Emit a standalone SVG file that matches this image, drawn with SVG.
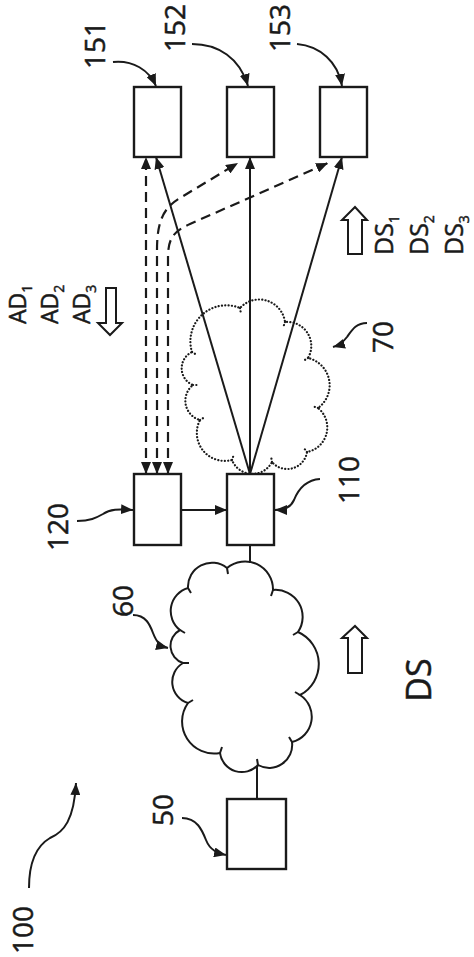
<svg xmlns="http://www.w3.org/2000/svg" width="474" height="957" viewBox="0 0 474 957">
<style>
.box{fill:#fff;stroke:#1a1a1a;stroke-width:2.4}
.ln{fill:none;stroke:#1a1a1a;stroke-width:2}
.dash{fill:none;stroke:#1a1a1a;stroke-width:2.2;stroke-dasharray:10 6}
.cloud{fill:none;stroke:#1a1a1a;stroke-width:2}
.dot{fill:none;stroke:#1a1a1a;stroke-width:2.2;stroke-dasharray:0.1 3.2;stroke-linecap:round}
.blk{fill:#fff;stroke:#1a1a1a;stroke-width:2}
.lbl{font-family:"Open Sans","Liberation Sans",sans-serif;fill:#1a1a1a;stroke:#1a1a1a;stroke-width:0.5;font-size:28px}
.mid{text-anchor:middle}
</style>
<defs>
<marker id="ah" viewBox="0 0 12 10" refX="12" refY="5" markerWidth="12" markerHeight="10" markerUnits="userSpaceOnUse" orient="auto-start-reverse">
<path d="M0,0 L12,5 L0,10 z" fill="#1a1a1a"/>
</marker>
</defs>
<rect x="0" y="0" width="474" height="957" fill="#fff"/>

<g id="cloud60">
<path class="cloud" d="M227,568 A28,28 0 0 1 273,590 A27,27 0 0 1 298,632 A35,35 0 0 1 300,695 A26,26 0 0 1 292,742 A23,23 0 0 1 258,765 A22,22 0 0 1 220,753 A32,32 0 0 1 188,703 A22,22 0 0 1 183,663 A18,18 0 0 1 180,630 A24,24 0 0 1 188,588 A24,24 0 0 1 227,568 Z"/>
<path class="cloud" d="M227,568 L228,574 M273,590 L271,596 M298,632 L293,635 M300,695 L295,692 M292,742 L289,737 M258,765 L257,759 M220,753 L222,747 M188,703 L193,700 M183,663 L189,663 M180,630 L185,633 M188,588 L191,593"/>
</g>

<g id="cloud70">
<path class="dot" d="M192,352 A36,36 0 0 1 240,308 A26,26 0 0 1 285,322 A24,24 0 0 1 308,358 A28,28 0 0 1 318,408 A25,25 0 0 1 307,452 A20,20 0 0 1 272,462 A22,22 0 0 1 232,460 A28,28 0 0 1 200,420 A20,20 0 0 1 193,385 A18,18 0 0 1 192,352 Z"/>
<path class="dot" d="M192,352 L197,355 M240,308 L241,314 M285,322 L283,328 M308,358 L303,361 M318,408 L312,406 M307,452 L303,447 M272,462 L271,456 M232,460 L234,454 M200,420 L205,417 M193,385 L199,385"/>
</g>

<g id="connectors">
<path class="ln" d="M250,474 L156,157" marker-end="url(#ah)"/>
<path class="ln" d="M250,474 L250,157" marker-end="url(#ah)"/>
<path class="ln" d="M250,474 L342,157" marker-end="url(#ah)"/>
<path class="dash" d="M146,474 L146,157" marker-start="url(#ah)" marker-end="url(#ah)"/>
<path class="dash" d="M157,474 V250 C157,222 163,208 180,198 L238,163" marker-start="url(#ah)" marker-end="url(#ah)"/>
<path class="dash" d="M168,474 V258 C168,240 172,232 190,224 L328,163" marker-start="url(#ah)" marker-end="url(#ah)"/>
<path class="ln" d="M181,510 L227,510" marker-end="url(#ah)"/>
<path class="ln" d="M250,545 L250,563"/>
<path class="ln" d="M257,799 L257,766"/>
</g>

<g id="n151"><rect class="box" x="134" y="87" width="47" height="70"/></g>
<g id="n152"><rect class="box" x="227" y="87" width="47" height="70"/></g>
<g id="n153"><rect class="box" x="320" y="87" width="47" height="70"/></g>
<g id="n120"><rect class="box" x="134" y="474" width="47" height="71"/></g>
<g id="n110"><rect class="box" x="227" y="474" width="47" height="71"/></g>
<g id="n50"><rect class="box" x="227" y="799" width="59" height="70"/></g>

<g id="labels">
<path class="ln" d="M113,62 C133,60 149,70 156,86" marker-end="url(#ah)"/>
<path class="ln" d="M192,44 C218,44 240,58 248,86" marker-end="url(#ah)"/>
<path class="ln" d="M297,44 C320,46 338,62 342,86" marker-end="url(#ah)"/>
<path class="ln" d="M29,888 C29,860 38,845 50,838 C64,832 74,820 76,783" marker-end="url(#ah)"/>
<path class="ln" d="M182,818 C197,818 202,830 206,840 C210,850 217,853 226,855" marker-end="url(#ah)"/>
<path class="ln" d="M133,615 C146,615 150,625 153,633 C157,643 160,646 168,648" marker-end="url(#ah)"/>
<path class="ln" d="M77,521 C90,521 96,518 103,514 C110,509 118,509 133,510" marker-end="url(#ah)"/>
<path class="ln" d="M320,479 C305,480 298,490 294,500 C291,507 285,510 275,510" marker-end="url(#ah)"/>
<path class="ln" d="M367,323 C356,323 352,330 347,337 C344,341 340,345 333,347" marker-end="url(#ah)"/>

<text class="lbl mid" transform="translate(105,45) rotate(-90)">151</text>
<text class="lbl mid" transform="translate(185,28) rotate(-90)">152</text>
<text class="lbl mid" transform="translate(290,28) rotate(-90)">153</text>
<text class="lbl mid" transform="translate(33,930) rotate(-90)">100</text>
<text class="lbl mid" transform="translate(173,810) rotate(-90)">50</text>
<text class="lbl mid" transform="translate(133,601) rotate(-90)">60</text>
<text class="lbl mid" transform="translate(68,527) rotate(-90)">120</text>
<text class="lbl mid" transform="translate(359,480) rotate(-90)">110</text>
<text class="lbl mid" transform="translate(393,337) rotate(-90)">70</text>
<text class="lbl mid" transform="translate(431,680) rotate(-90)" style="font-size:34px">DS</text>

<text class="lbl" transform="translate(26,324) rotate(-90)" style="font-size:23px">AD<tspan dy="6" font-size="14">1</tspan></text>
<text class="lbl" transform="translate(58,324) rotate(-90)" style="font-size:23px">AD<tspan dy="6" font-size="14">2</tspan></text>
<text class="lbl" transform="translate(90,324) rotate(-90)" style="font-size:23px">AD<tspan dy="6" font-size="14">3</tspan></text>
<text class="lbl" transform="translate(393,255) rotate(-90)" style="font-size:25px">DS<tspan dy="6" font-size="14">1</tspan></text>
<text class="lbl" transform="translate(428,255) rotate(-90)" style="font-size:25px">DS<tspan dy="6" font-size="14">2</tspan></text>
<text class="lbl" transform="translate(463,255) rotate(-90)" style="font-size:25px">DS<tspan dy="6" font-size="14">3</tspan></text>

<polygon class="blk" points="106,288 116,288 116,323 122,323 110,335 98,323 106,323"/>
<polygon class="blk" points="348,254 362,254 362,220 367,220 355,207 342,220 348,220"/>
<polygon class="blk" points="348,673 362,673 362,638 367,638 355,626 342,638 348,638"/>
</g>
</svg>
